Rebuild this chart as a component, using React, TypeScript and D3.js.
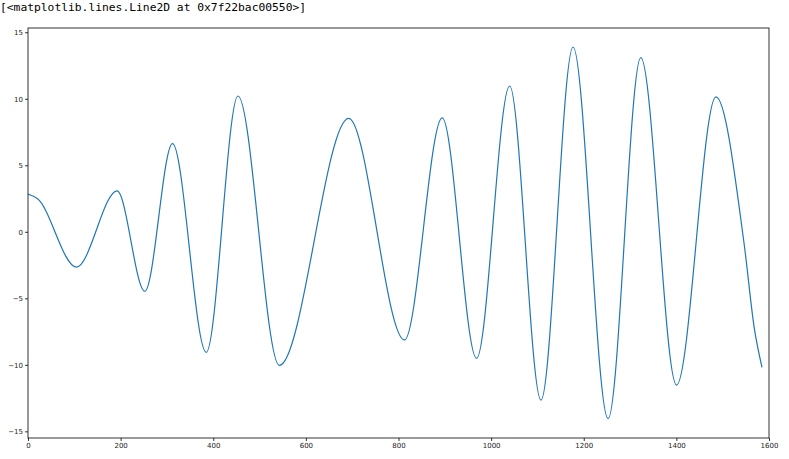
import React, { useRef, useEffect } from 'react';
import * as d3 from 'd3';

// points: turning points plus a few along the ends
const xs = [0, 20, 104.5, 192.4, 252.3, 312, 384.9, 453.4, 542.7, 692.5, 813, 894.4, 968.6, 1040, 1107.7, 1176.9, 1252.6, 1323.2, 1400.4, 1485.4, 1546.6, 1568.3, 1584.9];
const ys = [2.84, 2.5, -2.65, 3.07, -4.47, 6.63, -9.06, 10.21, -10.04, 8.53, -8.13, 8.56, -9.51, 10.96, -12.65, 13.89, -14.05, 13.1, -11.52, 10.14, -0.99, -7.26, -10.19];

const xTicks = [0, 200, 400, 600, 800, 1000, 1200, 1400, 1600];
const yTicks = [-15, -10, -5, 0, 5, 10, 15];
const title = '[<matplotlib.lines.Line2D at 0x7f22bac00550>]';

const App = () => {
    const ref = useRef<SVGSVGElement>(null);
    const width = 789;
    const height = 459;

    useEffect(() => {
        const margin = { top: 28, right: 20, bottom: 21, left: 28 };
        const svg = d3.select(ref.current);
        svg.selectAll('*').remove();

        const x = d3.scaleLinear().domain([0, 1600]).range([margin.left, width - margin.right]);
        const y = d3.scaleLinear().domain([-15.5, 15.32]).range([height - margin.bottom, margin.top]);

        svg.append('rect').attr('width', width).attr('height', height).attr('fill', '#fff');

        svg.append('text')
            .attr('x', 0)
            .attr('y', 11)
            .attr('font-family', 'DejaVu Sans Mono')
            .attr('font-size', 11.3)
            .attr('fill', '#000')
            .text(title);

        const data = xs.map((v, i) => [v, ys[i]] as [number, number]);
        const line = d3
            .line<[number, number]>()
            .x((d) => x(d[0]))
            .y((d) => y(d[1]))
            .curve(d3.curveMonotoneX);

        svg.append('path')
            .datum(data)
            .attr('d', line)
            .attr('fill', 'none')
            .attr('stroke', '#1f77b4')
            .attr('stroke-width', 1.2);

        // axes
        const xAxis = svg.append('g')
            .attr('transform', `translate(0,${height - margin.bottom})`)
            .call(d3.axisBottom(x).tickValues(xTicks).tickSize(3).tickPadding(2).tickFormat(d3.format('d')));
        const yAxis = svg.append('g')
            .attr('transform', `translate(${margin.left},0)`)
            .call(d3.axisLeft(y).tickValues(yTicks).tickSize(3).tickPadding(2).tickFormat((d) => (d < 0 ? '\u2212' + Math.abs(+d) : String(d))));

        [xAxis, yAxis].forEach((g) => {
            g.select('.domain').remove();
            g.selectAll('line').attr('stroke', '#000').attr('stroke-width', 0.8);
            g.selectAll('text').attr('font-family', 'DejaVu Sans').attr('font-size', 7).attr('fill', '#222');
        });

        // frame
        svg.append('rect')
            .attr('x', margin.left)
            .attr('y', margin.top)
            .attr('width', width - margin.left - margin.right)
            .attr('height', height - margin.top - margin.bottom)
            .attr('fill', 'none')
            .attr('stroke', '#000')
            .attr('stroke-width', 0.8);
    }, []);

    return (
        <svg
            ref={ref}
            width={width}
            height={height}
            style={{ position: 'absolute', left: 0, top: 0, display: 'block' }}
        />
    );
};

export default App;
